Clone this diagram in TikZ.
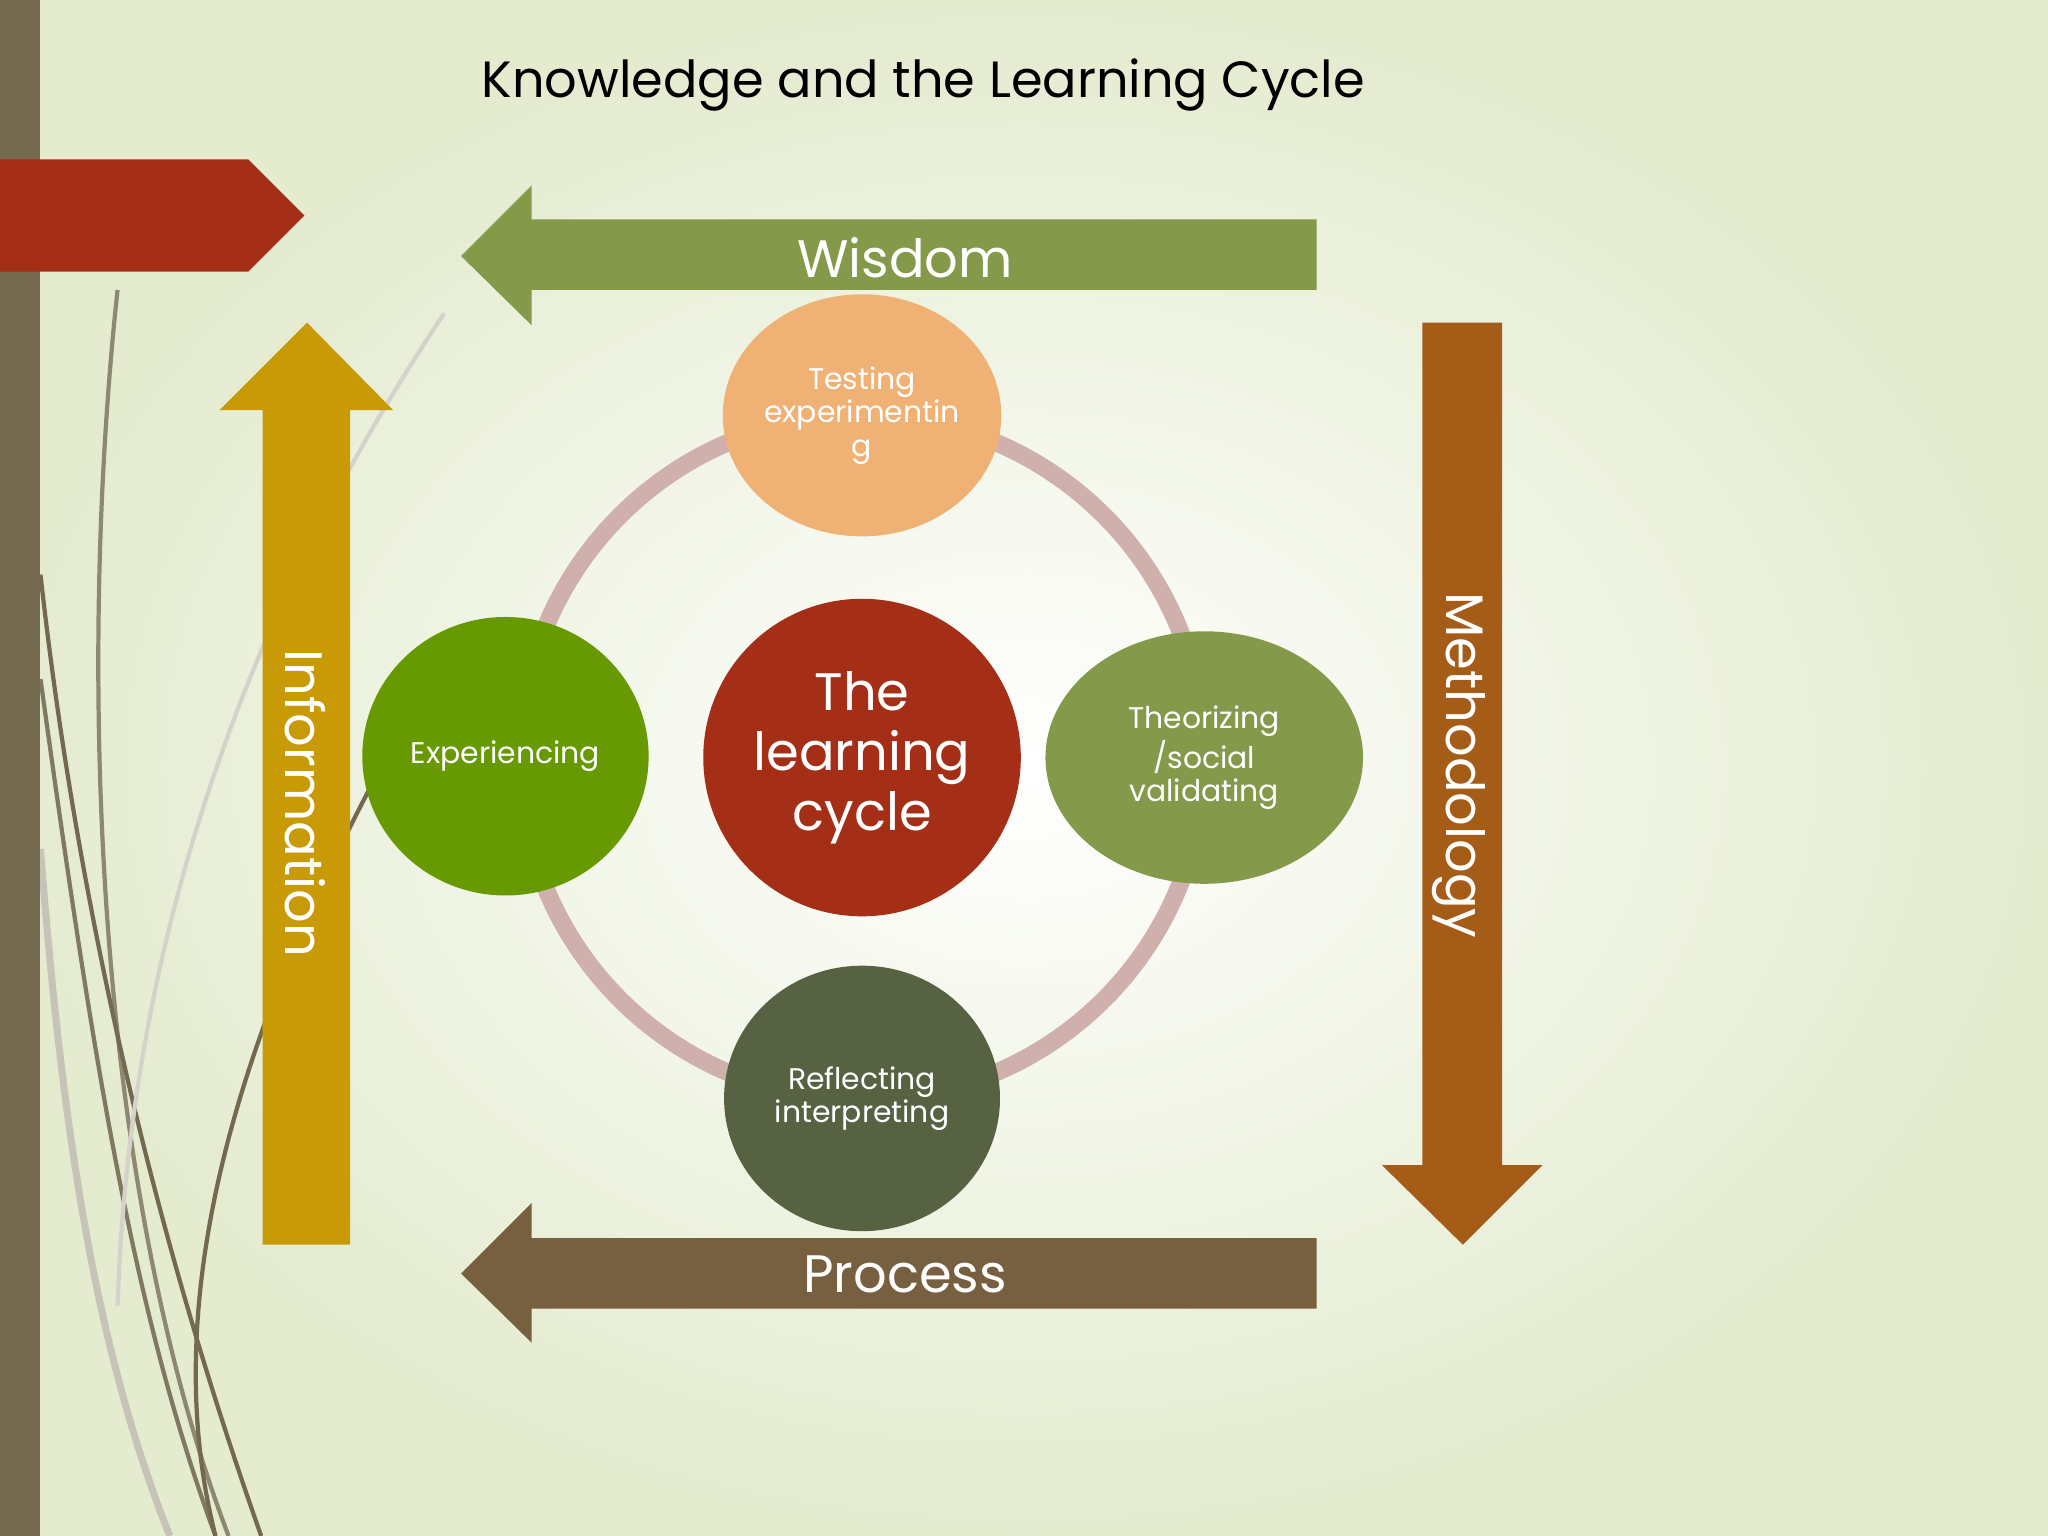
\documentclass[tikz,border=0pt]{standalone}
\usepackage{fontspec}
\setmainfont{Poppins}
\usetikzlibrary{shapes.geometric}
\definecolor{bgc}{HTML}{E4EBCF}
\definecolor{barc}{HTML}{72694F}
\definecolor{redc}{HTML}{A52E16}
\definecolor{wisc}{HTML}{84994A}
\definecolor{proc}{HTML}{77603F}
\definecolor{infc}{HTML}{C89A05}
\definecolor{metc}{HTML}{A45C17}
\definecolor{ringc}{HTML}{D0B0AD}
\definecolor{topc}{HTML}{F0B174}
\definecolor{expc}{HTML}{669A00}
\definecolor{refc}{HTML}{566241}
\tikzset{
  bub/.style 2 args={ellipse,text=white,align=center,inner sep=0pt,font=\fontsize{8.5}{9.5}\selectfont,
    minimum width={#1*0.3703pt},minimum height={#2*0.3703pt}},
  big/.style={text=white,font=\fontsize{15}{16}\selectfont},
}
\begin{document}
\begin{tikzpicture}[x=0.013061cm,y=-0.013061cm]
\useasboundingbox (0,0) rectangle (1568,1176);
\shade[inner color=white,outer color=bgc] (0,0) rectangle (1568,1176);
% decorative curves
\begin{scope}[line width=1.2pt]
\draw[barc!80] (90,222) .. controls (60,500) and (70,900) .. (175,1176);
\draw[barc] (31,440) .. controls (60,700) and (120,950) .. (200,1176);
\draw[barc!90] (31,520) .. controls (70,800) and (100,1000) .. (165,1176);
\draw[barc!40,line width=2pt] (31,650) .. controls (50,900) and (80,1050) .. (130,1176);
\draw[barc!30] (340,240) .. controls (200,450) and (100,700) .. (90,1000);
\draw[barc] (285,600) .. controls (180,800) and (120,1000) .. (165,1176);
\end{scope}
\fill[barc] (0,0) rectangle (31,1176);
\fill[redc] (0,122) -- (190,122) -- (233,165) -- (190,208) -- (0,208) -- cycle;
\node (title) at (707,65) {\fontsize{14.5}{16}\selectfont Knowledge and the Learning Cycle};
% arrows
\fill[wisc] (353,196) -- (407,142) -- (407,168) -- (1008,168) -- (1008,222) -- (407,222) -- (407,249) -- cycle;
\fill[proc] (353,975) -- (407,921) -- (407,948) -- (1008,948) -- (1008,1002) -- (407,1002) -- (407,1028) -- cycle;
\fill[infc] (235,247) -- (301,314) -- (268,314) -- (268,953) -- (201,953) -- (201,314) -- (168,314) -- cycle;
\fill[metc] (1089,247) -- (1150,247) -- (1150,892) -- (1181,892) -- (1120,953) -- (1058,892) -- (1089,892) -- cycle;
\node[big] (wis) at (693,197) {Wisdom};
\node[big] (pro) at (693,976) {Process};
\node[big,rotate=-90] (inf) at (234,615) {Information};
\node[big,rotate=-90] (met) at (1117,586) {Methodology};
% ring
\draw[ringc,line width=5pt] (660,580) circle (262);
\node[bub={214}{186},fill=topc] (top) at (660,318) {Testing\\experimentin\\g};
\node[bub={220}{214},fill=expc] (exp) at (387,579) {Experiencing};
\node[bub={244}{194},fill=wisc] (the) at (922,580) {Theorizing\\/social\\validating};
\node[bub={212}{204},fill=refc] (ref) at (660,841) {Reflecting\\interpreting};
\node[bub={244}{244},fill=redc,font=\fontsize{15}{17}\selectfont] (cen) at (660,580) {The\\learning\\cycle};
\end{tikzpicture}
\end{document}
